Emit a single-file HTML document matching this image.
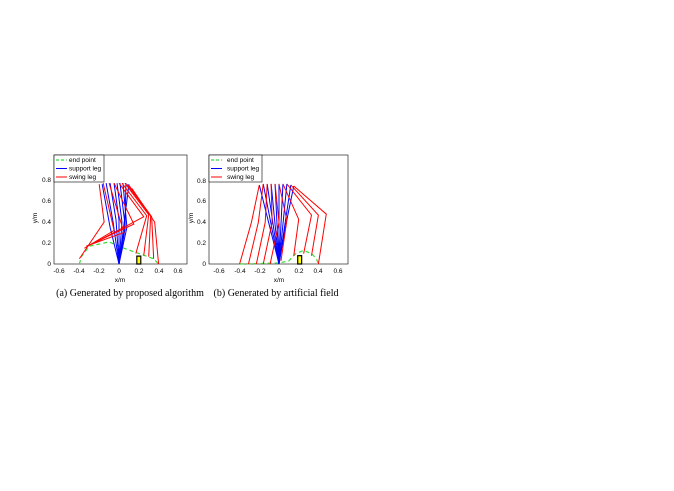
<!DOCTYPE html>
<html><head><style>body{margin:0;background:#fff}svg{display:block}</style></head><body>
<svg width="674" height="491" xmlns="http://www.w3.org/2000/svg" font-family="Liberation Sans, sans-serif">
<style>.l{fill:none;vector-effect:non-scaling-stroke;stroke-width:1}.r{stroke:#f00}.b{stroke:#00f}.g{stroke:#3d3;stroke-dasharray:4 3;stroke-width:1.2}.t{font-size:6.5px}</style>
<!-- Plot a -->
<rect x="54" y="155" width="133" height="109" fill="none" stroke="#000" stroke-width="0.6"/>
<g transform="translate(119,264) scale(99,-105)">
<polyline class="l g" points="-0.4,0 -0.38,0.07 -0.3,0.17 -0.1,0.21 0.05,0.15 0.2,0.1 0.35,0.05 0.4,0"/>
<rect x="0.18" y="0" width="0.04" height="0.075" fill="#ff0" stroke="#000" stroke-width="0.012"/>
<polyline class="l b" points="-0.13,0.77 -0.06,0.4 0,0"/>
<polyline class="l b" points="-0.09,0.77 -0.03,0.42 0,0"/>
<polyline class="l b" points="-0.05,0.77 0.0,0.42 0,0"/>
<polyline class="l b" points="-0.02,0.77 0.03,0.4 0,0"/>
<polyline class="l b" points="0.01,0.77 0.06,0.38 0,0"/>
<polyline class="l b" points="0.04,0.77 0.08,0.35 0,0"/>
<polyline class="l b" points="0.07,0.77 0.06,0.33 0,0"/>
<polyline class="l b" points="0.1,0.76 0.04,0.3 0,0"/>
<polyline class="l b" points="-0.17,0.76 -0.09,0.35 0,0"/>
<polyline class="l r" points="-0.20,0.76 -0.15,0.40 -0.40,0.05"/>
<polyline class="l r" points="-0.16,0.77 -0.05,0.32 -0.35,0.15"/>
<polyline class="l r" points="-0.10,0.77 0.05,0.30 -0.33,0.17"/>
<polyline class="l r" points="-0.05,0.77 0.15,0.38 -0.30,0.18"/>
<polyline class="l r" points="0.00,0.77 0.25,0.45 -0.25,0.20"/>
<polyline class="l r" points="0.03,0.77 0.28,0.46 0.17,0.10"/>
<polyline class="l r" points="0.06,0.77 0.30,0.47 0.25,0.08"/>
<polyline class="l r" points="0.08,0.76 0.32,0.46 0.30,0.07"/>
<polyline class="l r" points="0.10,0.75 0.33,0.45 0.35,0.05"/>
<polyline class="l r" points="0.13,0.72 0.36,0.40 0.40,0.0"/>
</g>
<!-- Plot b -->
<rect x="209" y="155" width="139" height="109" fill="none" stroke="#000" stroke-width="0.6"/>
<g transform="translate(279,264) scale(98.5,-104)">
<polyline class="l g" points="-0.4,0 0,0.01 0.1,0.03 0.17,0.1 0.25,0.13 0.33,0.1 0.38,0.05 0.4,0"/>
<rect x="0.19" y="0" width="0.04" height="0.08" fill="#ff0" stroke="#000" stroke-width="0.012"/>
<polyline class="l b" points="-0.20,0.76 -0.1,0.38 0,0"/>
<polyline class="l b" points="-0.16,0.77 -0.08,0.38 0,0"/>
<polyline class="l b" points="-0.12,0.77 -0.06,0.38 0,0"/>
<polyline class="l b" points="-0.08,0.77 -0.04,0.38 0,0"/>
<polyline class="l b" points="-0.04,0.77 -0.02,0.38 0,0"/>
<polyline class="l b" points="0.0,0.77 0.0,0.38 0,0"/>
<polyline class="l b" points="0.04,0.77 0.02,0.38 0,0"/>
<polyline class="l b" points="0.08,0.77 0.04,0.38 0,0"/>
<polyline class="l b" points="0.12,0.76 0.06,0.38 0,0"/>
<polyline class="l b" points="0.15,0.75 0.07,0.38 0,0"/>
<polyline class="l r" points="-0.20,0.76 -0.28,0.40 -0.40,0"/>
<polyline class="l r" points="-0.16,0.77 -0.21,0.40 -0.31,0"/>
<polyline class="l r" points="-0.12,0.77 -0.14,0.40 -0.23,0"/>
<polyline class="l r" points="-0.08,0.77 -0.07,0.40 -0.16,0"/>
<polyline class="l r" points="-0.04,0.77 0.0,0.40 -0.09,0"/>
<polyline class="l r" points="0.0,0.77 0.08,0.42 0.02,0.03"/>
<polyline class="l r" points="0.04,0.77 0.2,0.43 0.15,0.08"/>
<polyline class="l r" points="0.08,0.77 0.33,0.47 0.25,0.1"/>
<polyline class="l r" points="0.12,0.76 0.40,0.47 0.33,0.08"/>
<polyline class="l r" points="0.15,0.75 0.48,0.48 0.40,0"/>
</g>
<g class="t" text-anchor="middle">
<text x="59" y="273">-0.6</text><text x="79" y="273">-0.4</text><text x="99" y="273">-0.2</text><text x="119" y="273">0</text><text x="139" y="273">0.2</text><text x="159" y="273">0.4</text><text x="178" y="273">0.6</text>
<text x="120" y="282">x/m</text>
<text x="219" y="273">-0.6</text><text x="240" y="273">-0.4</text><text x="260" y="273">-0.2</text><text x="279" y="273">0</text><text x="299" y="273">0.2</text><text x="318" y="273">0.4</text><text x="338" y="273">0.6</text>
<text x="279" y="282">x/m</text>
</g>
<g class="t" text-anchor="end">
<text x="51" y="266">0</text><text x="51" y="245">0.2</text><text x="51" y="224">0.4</text><text x="51" y="203">0.6</text><text x="51" y="182">0.8</text>
<text x="206" y="266">0</text><text x="206" y="245">0.2</text><text x="206" y="224">0.4</text><text x="206" y="203">0.6</text><text x="206" y="183">0.8</text>
</g>
<text class="t" transform="translate(37,218) rotate(-90)" text-anchor="middle">y/m</text>
<text class="t" transform="translate(193,218) rotate(-90)" text-anchor="middle">y/m</text>
<rect x="54" y="155" width="50" height="27" fill="#fff" stroke="#000" stroke-width="0.6"/>
<line x1="56" y1="160" x2="67" y2="160" stroke="#3d3" stroke-width="1.2" stroke-dasharray="3 2"/>
<line x1="56" y1="168.5" x2="67" y2="168.5" stroke="#00f"/>
<line x1="56" y1="177" x2="67" y2="177" stroke="#f00"/>
<text class="t" x="69" y="162">end point</text><text class="t" x="69" y="170.5">support leg</text><text class="t" x="69" y="179">swing leg</text>
<rect x="209" y="155" width="53" height="27" fill="#fff" stroke="#000" stroke-width="0.6"/>
<line x1="211" y1="160" x2="222" y2="160" stroke="#3d3" stroke-width="1.2" stroke-dasharray="3 2"/>
<line x1="211" y1="168.5" x2="222" y2="168.5" stroke="#00f"/>
<line x1="211" y1="177" x2="222" y2="177" stroke="#f00"/>
<text class="t" x="227" y="162">end point</text><text class="t" x="227" y="170.5">support leg</text><text class="t" x="227" y="179">swing leg</text>
<text x="130" y="296" font-family="Liberation Serif, serif" font-size="10" text-anchor="middle">(a) Generated by proposed algorithm</text>
<text x="276" y="296" font-family="Liberation Serif, serif" font-size="10" text-anchor="middle">(b) Generated by artificial field</text>
</svg>
</body></html>
